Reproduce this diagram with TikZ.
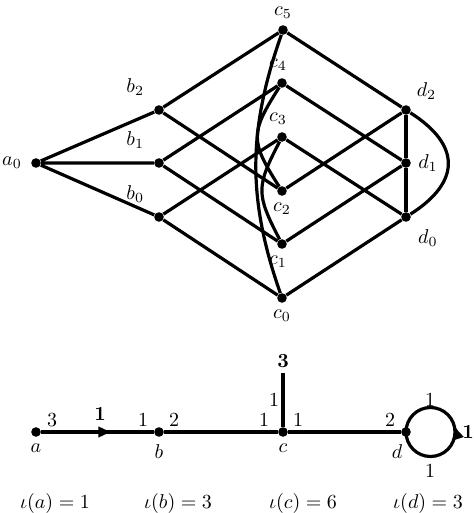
\documentclass[tikz,border=0pt]{standalone}
\usepackage{amsmath}
\usepackage{amssymb}
\usetikzlibrary{arrows.meta,decorations.markings}

\tikzset{
	vtx/.style={circle,fill,inner sep=0pt,minimum size=4.8pt},
	edg/.style={line width=1.6pt},
	midarrow/.style={postaction={decorate},decoration={markings,
		mark=at position #1 with {\arrow{Latex[length=7.5pt,width=6pt]}}}},
}

\begin{document}
\begin{tikzpicture}[x=0.5pt,y=0.5pt]
\useasboundingbox (0,0) rectangle (474,-513);
%fibre a
\node[vtx,label={[label distance=1pt]left:$a_0$}] (a0) at (36,-163) {};
%fibre b
\node[vtx,label={[label distance=3pt]above left:$b_2$}] (b2) at (159,-110) {};
\node[vtx,label={[label distance=3pt]above left:$b_1$}] (b1) at (159,-163) {};
\node[vtx,label={[label distance=3pt]above left:$b_0$}] (b0) at (159,-217) {};
%fibre c
\node[vtx,label={[inner sep=1pt,label distance=2pt]above:$c_5$}] (c5) at (283,-30) {};
\node[vtx,label={[xshift=-2pt]above:$c_4$}] (c4) at (282,-83) {};
\node[vtx,label={[xshift=-2pt]above:$c_3$}] (c3) at (282,-137) {};
\node[vtx,label=below:$c_2$] (c2) at (282,-191) {};
\node[vtx,label={[xshift=-2pt]below:$c_1$}] (c1) at (282,-244) {};
\node[vtx,label=below:$c_0$] (c0) at (282,-298) {};
%fibre d
\node[vtx,label={[label distance=0pt]above right:$d_2$}] (d2) at (406,-110) {};
\node[vtx,label={[label distance=0pt]right:$d_1$}] (d1) at (406,-163) {};
\node[vtx,label={[label distance=1pt]below right:$d_0$}] (d0) at (406,-217) {};
%straight edges
\draw[edg] (a0) -- (b0) (a0) -- (b1) (a0) -- (b2);
\draw[edg] (b2) -- (c5) (b2) -- (c2) (b1) -- (c4) (b1) -- (c1)
	(b0) -- (c3) (b0) -- (c0);
\draw[edg] (c5) -- (d2) (c4) -- (d1) (c3) -- (d0)
	(c2) -- (d2) (c1) -- (d1) (c0) -- (d0);
\draw[edg] (d2) -- (d1) -- (d0);
%bent edges
\draw[edg] (c5) .. controls +(-35,-100) and +(-35,100) .. (c0);
\draw[edg] (c4) .. controls +(-32,-50) and +(-32,50) .. (c2);
\draw[edg] (c3) .. controls +(-26,-50) and +(-26,50) .. (c1);
\draw[edg] (d2) .. controls +(55,-35) and +(55,35) .. (d0);

%quotient
\node[vtx,label=below:$a$] (a) at (36,-432) {};
\node[vtx,label=below:$b$] (b) at (159,-432) {};
\node[vtx,label=below:$c$] (c) at (283,-432) {};
\node[vtx,label={[xshift=-4.5pt]below:$d$}] (d) at (406,-432) {};
\coordinate (ctop) at (283,-373);
\draw[edg,midarrow=0.64] (a) -- (b);
\draw[edg] (b) -- (c) -- (d);
\draw[edg] (c) -- (ctop);
\draw[edg,midarrow=0.55] (d) arc[start angle=180,end angle=540,radius=12.25pt];
%edge ends
\path (52,-420) node (ta) {$3$};
\path (100,-414) node (tab) {$\mathbf{1}$};
\path (143,-420) node (tba) {$1$};
\path (174,-420) node (tbc) {$2$};
\path (264,-420) node (tcb) {$1$};
\path (298,-420) node (tcd) {$1$};
\path (274,-400) node (tcu) {$1$};
\path (283,-361) node (tu) {$\mathbf{3}$};
\path (390,-420) node (tdc) {$2$};
\path (430,-400) node (tdt) {$1$};
\path (430,-471) node (tdb) {$1$};
\path (468,-432) node (tdl) {$\mathbf{1}$};
%indices
\path (55,-503) node (ia) {$\iota(a)=1$};
\path (178,-503) node (ib) {$\iota(b)=3$};
\path (303,-503) node (ic) {$\iota(c)=6$};
\path (428,-503) node (id) {$\iota(d)=3$};
\end{tikzpicture}
\end{document}
